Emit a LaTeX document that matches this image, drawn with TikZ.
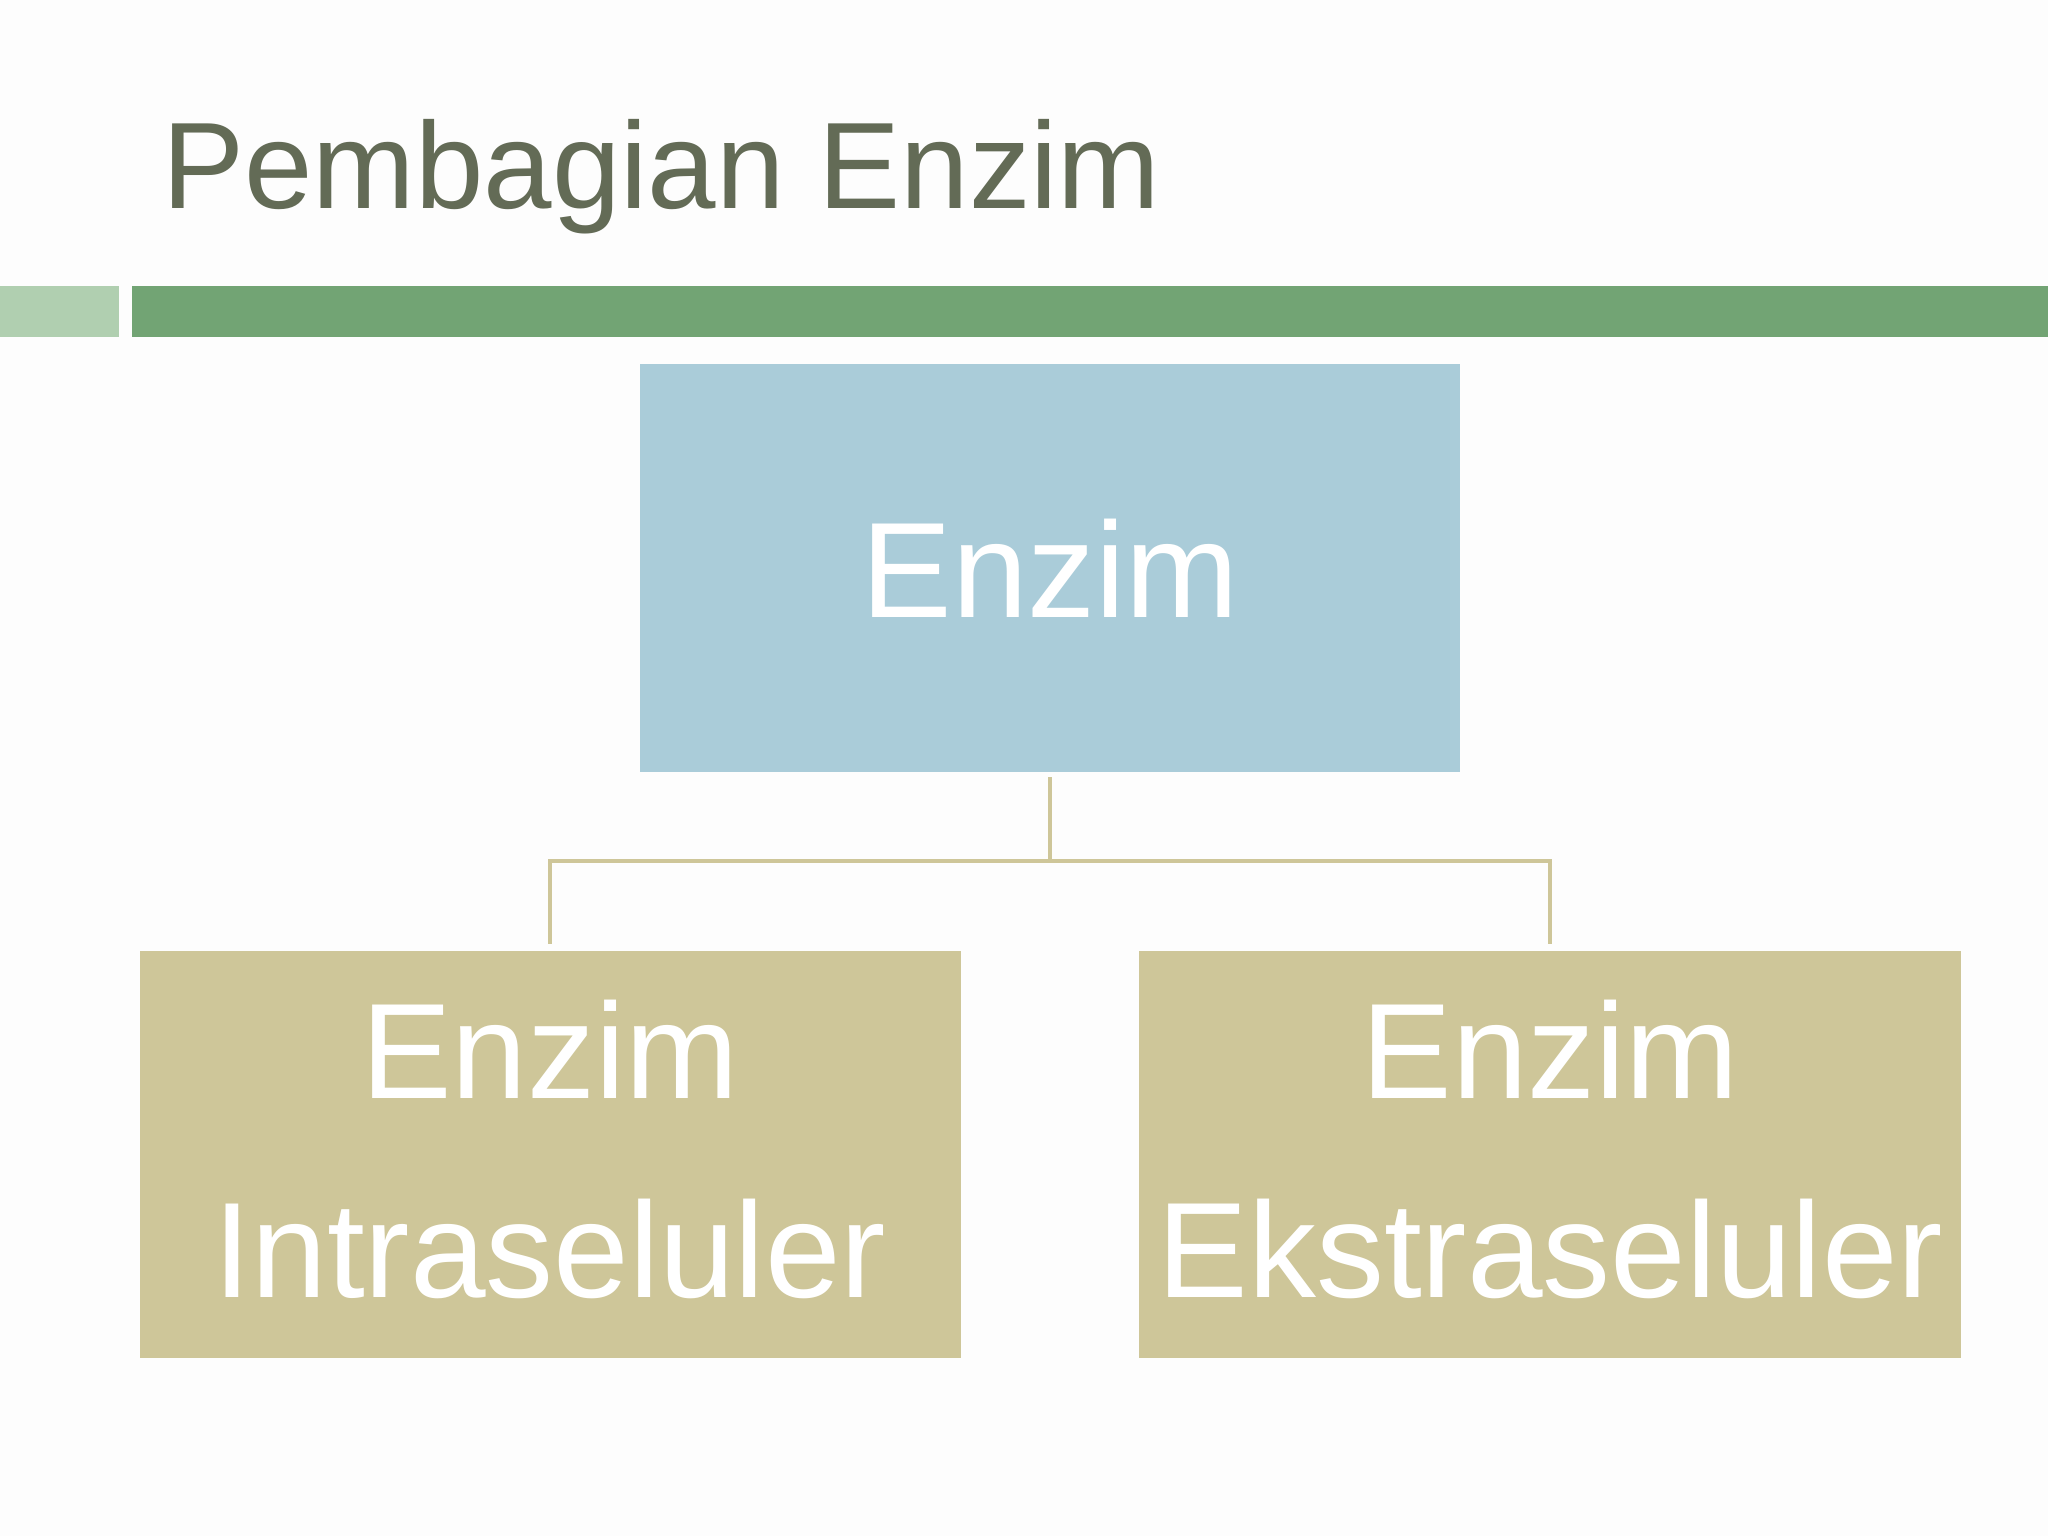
\documentclass[tikz,border=0pt]{standalone}
\usepackage{fontspec}
\setmainfont{Liberation Sans}
\definecolor{bg}{HTML}{FDFDFD}
\definecolor{titlec}{HTML}{636B56}
\definecolor{darkg}{HTML}{72A474}
\definecolor{lightg}{HTML}{B0CFB0}
\definecolor{topc}{HTML}{AACCD9}
\definecolor{botc}{HTML}{CEC699}
\begin{document}
\begin{tikzpicture}[x=0.25mm,y=-0.25mm,
  box/.style={inner sep=0pt,align=center,text=white,font=\fontsize{74}{108}\selectfont},
  conn/.style={draw=botc,line width=0.8mm}]
\useasboundingbox (0,0) rectangle (1568,1176);
\fill[bg] (0,0) rectangle (1568,1176);
\node[anchor=base west,inner sep=0pt,text=titlec,font=\fontsize{67}{80}\selectfont] (title) at (124,160) {Pembagian Enzim};
\fill[lightg] (0,219) rectangle (91,258);
\fill[darkg] (101,219) rectangle (1568,258);
\fill[topc] (490,279) rectangle (1118,591);
\fill[botc] (107,728) rectangle (736,1040);
\fill[botc] (872,728) rectangle (1501,1040);
\node[box] (top) at (804,435) {Enzim};
\node[box] (left) at (421,880) {Enzim\\Intraseluler};
\node[box] (right) at (1187,880) {Enzim\\Ekstraseluler};
\coordinate (ts) at (804,595);
\coordinate (ls) at (421,723);
\coordinate (rs) at (1187,723);
\draw[conn] (ts) -- (804,659) -| (ls);
\draw[conn] (804,659) -| (rs);
\end{tikzpicture}
\end{document}
